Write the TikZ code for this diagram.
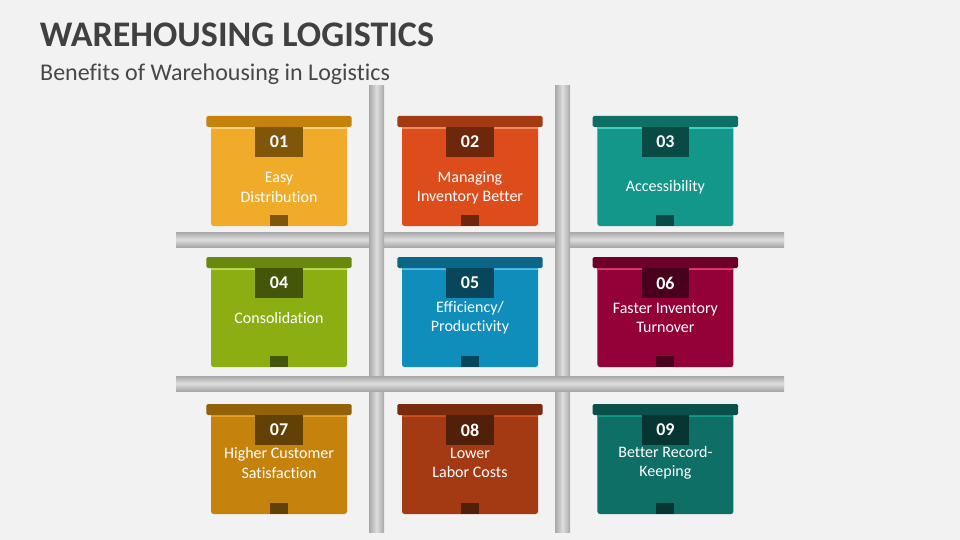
\documentclass[tikz,border=0pt]{standalone}
\usepackage{fontspec}
\setmainfont[Ligatures=NoCommon]{Carlito}
\definecolor{bg}{HTML}{F2F2F2}
\definecolor{poleE}{HTML}{A8A8A8}
\definecolor{poleM}{HTML}{DEDEDE}
\tikzset{
  x=1pt,y=-1pt,
  polev/.style={left color=poleE,right color=poleE,middle color=poleM,draw=none},
  poleh/.style={top color=poleE,bottom color=poleE,middle color=poleM,draw=none},
  lidbox/.style={rounded corners=1.5pt,draw=none},
  bodybox/.style={rounded corners=2.5pt,draw=none},
  lbl/.style={text=white,font=\fontsize{16}{19.3}\selectfont,align=center},
  num/.style={text=white,font=\fontsize{18}{18}\selectfont\bfseries,anchor=center},
}
\newcommand{\crate}[9]{%
 \definecolor{cbody}{HTML}{#4}\definecolor{clid}{HTML}{#5}\definecolor{ctag}{HTML}{#6}\definecolor{clight}{HTML}{#7}%
 \fill[bodybox,fill=cbody] (#2-68,#3+8) rectangle (#2+68,#3+110);
 \fill[fill=clight] (#2-68,#3+11) rectangle (#2+68,#3+13);
 \fill[lidbox,fill=clid] (#2-72.7,#3) rectangle (#2+72.7,#3+11);
 \fill[fill=ctag] (#2-9,#3+99) rectangle (#2+9,#3+110);
 \node[draw=none,fill=ctag,minimum width=47.5pt,minimum height=30pt,inner sep=0pt,outer sep=0pt,num] (#1) at (#2,#3+26) {\raisebox{-0.7pt}{#8}};
 \node[lbl] (#1t) at (#2,\crateLabelY) {#9};
}
\begin{document}
\begin{tikzpicture}
\useasboundingbox (0,0) rectangle (960,540);
\fill[bg] (0,0) rectangle (960,540);
\node[anchor=west,inner sep=0pt,text=black!75,font=\fontsize{36}{36}\selectfont\bfseries] (title) at (39.6,34.6) {WAREHOUSING LOGISTICS};
\node[anchor=west,inner sep=0pt,text=black!72,font=\fontsize{24}{24}\selectfont] (sub) at (40,74) {Benefits of Warehousing in Logistics};
% poles
\fill[poleh] (176,232) rectangle (784,247);
\fill[polev] (369,86) rectangle (384,532);
\fill[polev] (555,86) rectangle (570,532);
\fill[poleh] (176,376) rectangle (784,391);
% crates
\def\crateLabelY{187.5}
\crate{a}{279}{116}{F0AC28}{C5830E}{80570A}{F9CF7E}{01}{Easy\\Distribution}
\crate{b}{470}{116}{DD4D1B}{A33A13}{6D270D}{F08A60}{02}{Managing\\Inventory Better}
\crate{c}{665.4}{116}{13978B}{0E6F66}{0A4A44}{3FD0C2}{03}{Accessibility}
\def\crateLabelY{318}
\crate{d}{279}{257}{8BAF12}{6B880E}{445609}{BEDD50}{04}{Consolidation}
\crate{e}{470}{257}{0F8DBB}{0B6788}{08465C}{50C0E8}{05}{Efficiency/\\Productivity}
\crate{f}{665.4}{257}{940038}{6C0029}{49001C}{E8356F}{06}{Faster Inventory\\Turnover}
\def\crateLabelY{463}
\crate{g}{279}{404}{C5830E}{936109}{624107}{E0A030}{07}{Higher Customer\\Satisfaction}
\crate{h}{470}{404}{A33A13}{7A2B0E}{51200A}{C85020}{08}{Lower\\Labor Costs}
\crate{i}{665.4}{404}{0E6F66}{0A4F49}{073532}{149588}{09}{Better Record-\\Keeping}
\end{tikzpicture}
\end{document}
